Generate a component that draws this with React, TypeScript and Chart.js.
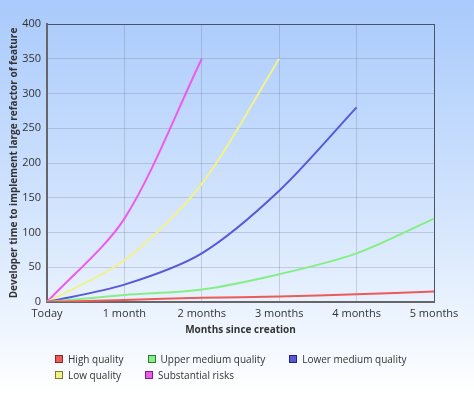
import React, { useEffect, useRef } from "react";
import { Chart, registerables } from "chart.js";

Chart.register(...registerables);

const monthLabels = ["Today", "1 month", "2 months", "3 months", "4 months", "5 months"];

const seriesNames = [
  "High quality",
  "Upper medium quality",
  "Lower medium quality",
  "Low quality",
  "Substantial risks",
];

const highQuality = [0, 3, 6, 8, 11, 15];
const upperMediumQuality = [0, 10, 18, 40, 70, 120];
const lowerMediumQuality = [0, 25, 70, 160, 280];
const lowQuality = [0, 60, 170, 350];
const substantialRisks = [0, 120, 350];

const seriesValues = [highQuality, upperMediumQuality, lowerMediumQuality, lowQuality, substantialRisks];
const lineColors = ["#ec5a5a", "#86ee86", "#5858dc", "#f2f28a", "#ee5aee"];
const boxBorders = ["#8a2a2a", "#2f7a2f", "#23237a", "#7a7a2a", "#7a237a"];

const yMin = 0;
const yMax = 400;
const yStep = 50;

const FONT = "'Open Sans', 'Noto Sans', sans-serif";
const TEXT = "#333333";

export default function App() {
  const canvasRef = useRef<HTMLCanvasElement | null>(null);

  useEffect(() => {
    const canvas = canvasRef.current;
    if (!canvas) return;
    const chart = new Chart(canvas, {
      type: "line",
      data: {
        labels: monthLabels,
        datasets: seriesNames.map((name, i) => ({
          label: name,
          data: seriesValues[i],
          borderColor: lineColors[i],
          backgroundColor: lineColors[i],
          borderWidth: 2,
          pointRadius: 0,
          tension: 0.3,
          fill: false,
        })),
      },
      options: {
        animation: false,
        responsive: false,
        maintainAspectRatio: false,
        layout: { padding: { top: 24, right: 40, bottom: 57, left: 0 } },
        plugins: {
          legend: { display: false },
          tooltip: { enabled: false },
        },
        scales: {
          x: {
            type: "category",
            offset: false,
            afterFit: (s: any) => {
              s.height = 36;
            },
            grid: {
              color: (ctx: any) =>
                ctx.index === monthLabels.length - 1 ? "#4a5564" : "rgba(110,120,135,0.28)",
              drawTicks: false,
            },
            border: { color: "#666666", width: 2 },
            ticks: {
              color: TEXT,
              font: { family: FONT, size: 11 },
              padding: 5,
              maxRotation: 0,
              autoSkip: false,
            },
            title: {
              display: true,
              text: "Months since creation",
              color: TEXT,
              font: { family: FONT, size: 10, weight: "bold" },
              padding: { top: 0, bottom: 2 },
            },
          },
          y: {
            min: yMin,
            max: yMax,
            afterFit: (s: any) => {
              s.width = 47;
            },
            grid: {
              color: (ctx: any) =>
                ctx.tick && ctx.tick.value === yMax ? "#4a5564" : "rgba(110,120,135,0.28)",
              drawTicks: false,
            },
            border: { color: "#666666", width: 2 },
            ticks: {
              stepSize: yStep,
              color: TEXT,
              font: { family: FONT, size: 11 },
              padding: 6,
            },
            title: {
              display: true,
              text: "Developer time to implement large refactor of feature",
              color: TEXT,
              font: { family: FONT, size: 10, weight: "bold" },
              padding: { top: 8, bottom: 0 },
            },
          },
        },
      },
    });
    return () => chart.destroy();
  }, []);

  return (
    <div
      style={{
        position: "absolute",
        left: 0,
        top: 0,
        width: 474,
        height: 395,
        background: "linear-gradient(to bottom, #a9cafc 0%, #d4e5fd 55%, #ffffff 100%)",
        overflow: "hidden",
      }}
    >
      <canvas ref={canvasRef} width={474} height={395} style={{ display: "block" }} />
      <div
        style={{
          position: "absolute",
          left: 55,
          top: 351,
          width: 380,
          display: "flex",
          flexWrap: "wrap",
          columnGap: 24,
          rowGap: 0,
          fontFamily: FONT,
          fontSize: 10,
          color: TEXT,
          lineHeight: "16px",
        }}
      >
        {seriesNames.map((name, i) => (
          <div key={name} style={{ display: "flex", alignItems: "center", whiteSpace: "nowrap" }}>
            <span
              style={{
                display: "inline-block",
                width: 6,
                height: 6,
                background: lineColors[i],
                border: `1px solid ${boxBorders[i]}`,
                marginRight: 5,
              }}
            />
            <span>{name}</span>
          </div>
        ))}
      </div>
    </div>
  );
}
